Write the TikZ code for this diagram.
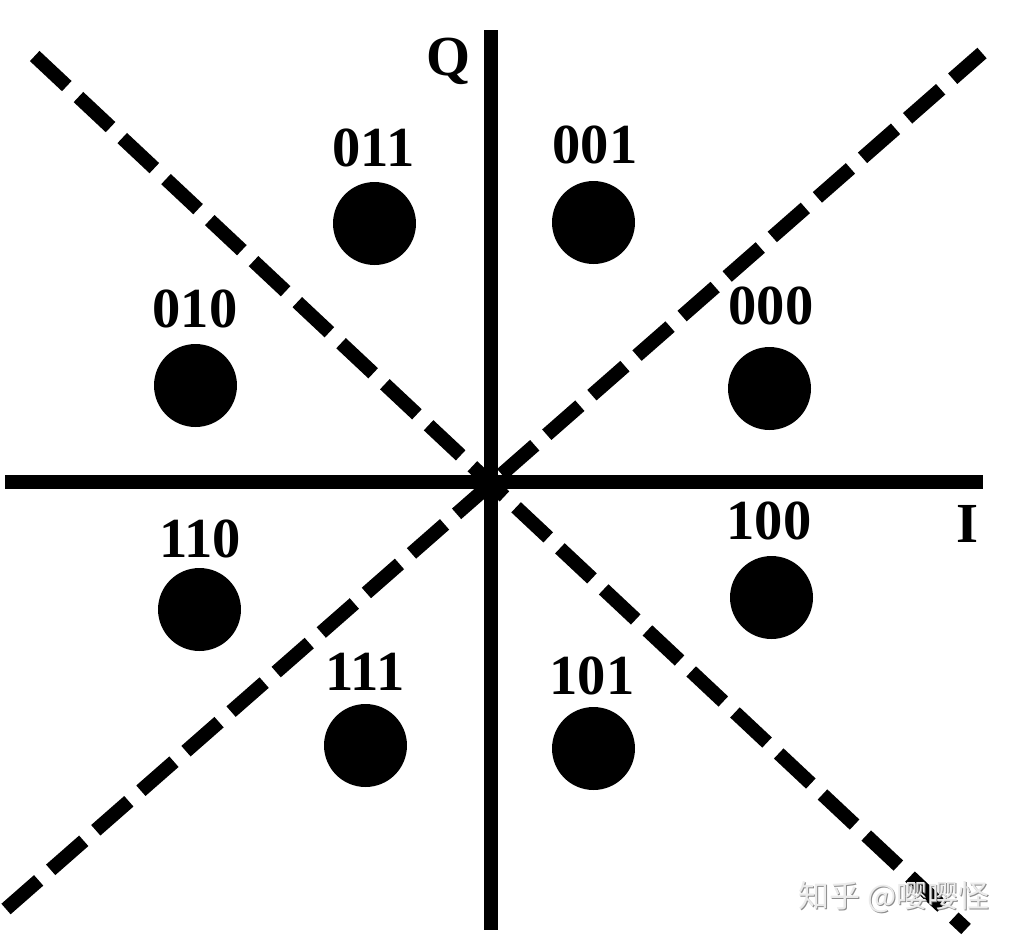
\documentclass[tikz,border=0pt]{standalone}
\usepackage{fontspec}
\setmainfont{Liberation Serif}
\newfontfamily\cjk{Noto Sans CJK SC}
\tikzset{
	axisline/.style={line width=0.28cm, color=black},
	boundary/.style={line width=0.28cm, color=black, dash pattern=on 0.88cm off 0.32cm},
	symbolpt/.style={circle, fill=black, minimum size=1.66cm, inner sep=0},
	bitlabel/.style={inner sep=0, font=\fontsize{32.2}{32.2}\selectfont\bfseries},
	markwater/.style={inner sep=0, font=\fontsize{17.6}{17.6}\selectfont\cjk},
}

\begin{document}
\begin{tikzpicture}[x=0.02cm, y=-0.02cm]
			%%%%% START %%%%%
			\useasboundingbox (0, 0) rectangle (1014, 938);
			
			\coordinate (qtop) at (491, 30);
			\coordinate (qbot) at (491, 930);
			\coordinate (ileft) at (5, 482);
			\coordinate (iright) at (983, 482);
			\coordinate (dnwa) at (34.7, 56);
			\coordinate (dnwb) at (966, 929);
			\coordinate (dnea) at (982, 53);
			\coordinate (dneb) at (6, 909);
			
			\draw[boundary] (dnwa) -- (dnwb);
			\draw[boundary, dash phase=0.1cm] (dnea) -- (dneb);
			\draw[axisline] (qtop) -- (qbot);
			\draw[axisline] (ileft) -- (iright);
			
			\node[symbolpt] (p011) at (374.5, 223.5) {};
			\node[symbolpt] (p001) at (593.5, 222.5) {};
			\node[symbolpt] (p010) at (195.5, 385.5) {};
			\node[symbolpt] (p000) at (769.5, 388.5) {};
			\node[symbolpt] (p110) at (199.5, 609.5) {};
			\node[symbolpt] (p100) at (771.5, 597.5) {};
			\node[symbolpt] (p111) at (365.5, 745.5) {};
			\node[symbolpt] (p101) at (593.5, 748.5) {};
			
			\node[bitlabel] (l011) at (373.5, 148) {011};
			\node[bitlabel] (l001) at (595, 145) {001};
			\node[bitlabel] (l010) at (195, 309) {010};
			\node[bitlabel] (l000) at (771, 306) {000};
			\node[bitlabel] (l110) at (200, 539) {110};
			\node[bitlabel] (l100) at (769, 521) {100};
			\node[bitlabel] (l111) at (365, 672) {111};
			\node[bitlabel] (l101) at (592, 676) {101};
			
			\node[bitlabel] (lq) at (448, 61) {Q};
			\node[bitlabel] (li) at (967, 524) {I};
			
			\node[markwater, color=black!45] (wms) at (894.7, 897.7) {知乎 @嘤嘤怪};
			\node[markwater, color=black!8] (wm) at (894, 897) {知乎 @嘤嘤怪};
			%%%%% END %%%%%
		\end{tikzpicture}
\end{document}
